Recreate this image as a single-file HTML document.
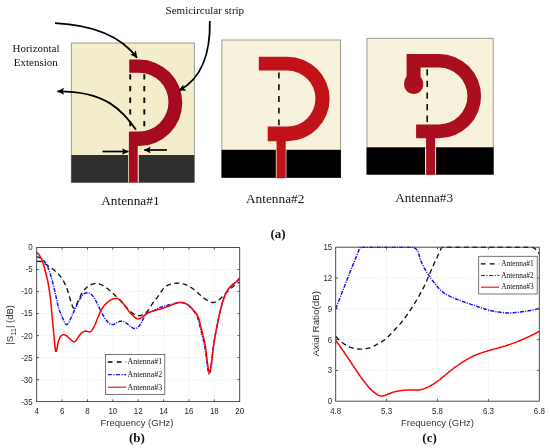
<!DOCTYPE html>
<html><head><meta charset="utf-8"><title>Figure</title>
<style>
html,body{margin:0;padding:0;background:#fff;}
svg{display:block;}
.serif{font-family:"Liberation Serif",serif;}
.sans{font-family:"Liberation Sans",sans-serif;}
</style></head><body>
<svg width="550" height="448" viewBox="0 0 550 448">
<rect width="550" height="448" fill="#fff"/>
<defs>
<marker id="ah" viewBox="0 0 10 10" refX="9.5" refY="5" markerWidth="8.5" markerHeight="7" markerUnits="userSpaceOnUse" orient="auto"><path d="M0,0 L10,5 L0,10 L2.2,5 Z" fill="#000"/></marker>
<marker id="ah2" viewBox="0 0 10 10" refX="9.5" refY="5" markerWidth="7" markerHeight="6.6" markerUnits="userSpaceOnUse" orient="auto"><path d="M0,0 L10,5 L0,10 L1.5,5 Z" fill="#000"/></marker>
</defs>

<!-- Antenna 1 -->
<g>
<rect x="71.3" y="43" width="123" height="139.5" fill="#f3edcc" stroke="#85857e" stroke-width="0.8"/>
<rect x="71.3" y="155" width="123" height="27.5" fill="#2f2f2f"/>
<rect x="128.1" y="155" width="10.7" height="27.5" fill="#efe8c9"/>
<path d="M129.2,59.6 H139.1 A43.2,43.2 0 0 1 139.1,146 H137.7 V182.6 H128.9 V131.5 H139.1 A29.4,29.4 0 0 0 139.1,72.7 H129.2 Z" fill="#a50a20"/>
<path d="M130.2,74.2 V131 M144.3,74.2 V131" stroke="#0a0a0a" stroke-width="1.9" stroke-dasharray="5.3 6.4" fill="none"/>
<path d="M55,23.1 C85,24.5 118,32 137,57.8" stroke="#000" stroke-width="1.8" fill="none" marker-end="url(#ah)"/>
<path d="M209.8,21 C210.5,50 203,78 179,90.6" stroke="#000" stroke-width="1.8" fill="none" marker-end="url(#ah)"/>
<path d="M136,129.8 C121,109.6 106,91 57.5,91.3" stroke="#000" stroke-width="1.8" fill="none" marker-end="url(#ah)"/>
<path d="M102.5,151.5 H128.4" stroke="#000" stroke-width="1.7" fill="none" marker-end="url(#ah2)"/>
<path d="M167,150 H144.3" stroke="#000" stroke-width="1.7" fill="none" marker-end="url(#ah2)"/>
</g>
<text class="serif" x="165.6" y="13.8" font-size="11" fill="#111">Semicircular strip</text>
<text class="serif" x="12.5" y="52" font-size="11" fill="#111">Horizontal</text>
<text class="serif" x="13.8" y="65.8" font-size="11" fill="#111">Extension</text>
<text class="serif" x="101.2" y="204.5" font-size="13.3" fill="#111">Antenna#1</text>

<!-- Antenna 2 -->
<g>
<rect x="221.9" y="40" width="118.6" height="137.5" fill="#f8f2dd" stroke="#85857e" stroke-width="0.8"/>
<rect x="221.5" y="149.8" width="119.4" height="28" fill="#000"/>
<rect x="275.8" y="149.8" width="10.6" height="28" fill="#f1ebd6"/>
<path d="M258.8,56.7 H287.4 A42.2,42.2 0 0 1 287.4,141.2 H285.7 V178.2 H276.6 V141.2 H267.7 V126.6 H287.4 A28,28 0 0 0 287.4,70.5 H258.8 Z" fill="#c1121a"/>
<path d="M278.9,72.6 V126" stroke="#0a0a0a" stroke-width="1.6" stroke-dasharray="5.9 5.8" fill="none"/>
</g>
<text class="serif" x="246" y="203" font-size="13.3" fill="#111">Antenna#2</text>

<!-- Antenna 3 -->
<g>
<rect x="367" y="38.3" width="126.2" height="136.2" fill="#f8f2dd" stroke="#85857e" stroke-width="0.8"/>
<rect x="366.6" y="147.3" width="127" height="27.3" fill="#000"/>
<rect x="425" y="147.3" width="11.1" height="27.3" fill="#f1ebd6"/>
<path d="M406.6,54 H439 A42.1,42.1 0 0 1 439,138.2 H435.1 V174.8 H426.1 V138.2 H416.1 V124.4 H439 A28.4,28.4 0 0 0 439,67.6 H420.6 V77 C423.5,80 423.4,84 423.2,86 A9.6,9.4 0 0 1 404.1,85 C404,81 405,78.5 406.6,76 Z" fill="#a90f1f"/>
<path d="M427.2,69.2 V128" stroke="#0a0a0a" stroke-width="1.6" stroke-dasharray="6.3 5.3" fill="none"/>
</g>
<text class="serif" x="395.2" y="201.8" font-size="13.2" fill="#111">Antenna#3</text>
<text class="serif" x="270.5" y="237.8" font-size="13" font-weight="bold" fill="#111">(a)</text>

<!-- Plot b -->
<rect x="36.7" y="247.5" width="203.0" height="154.1" fill="#fff"/>
<path d="M62.1,247.5 V401.6 M87.5,247.5 V401.6 M112.8,247.5 V401.6 M138.2,247.5 V401.6 M163.6,247.5 V401.6 M188.9,247.5 V401.6 M214.3,247.5 V401.6 M36.7,269.5 H239.7 M36.7,291.5 H239.7 M36.7,313.5 H239.7 M36.7,335.6 H239.7 M36.7,357.6 H239.7 M36.7,379.6 H239.7" stroke="#eaeaea" stroke-width="0.8" stroke-dasharray="2 1.5" fill="none"/>
<clipPath id="cb"><rect x="36.7" y="247.5" width="203.0" height="154.1"/></clipPath>
<g clip-path="url(#cb)" fill="none" stroke-linejoin="round">
<path d="M36.7,261.6 L37.4,261.4 L38.1,261.3 L38.7,261.3 L39.4,261.4 L40.1,261.5 L40.8,261.7 L41.5,261.9 L42.1,262.2 L42.8,262.5 L43.5,262.8 L44.2,263.2 L44.8,263.6 L45.5,264.1 L46.2,264.5 L46.9,265.0 L47.6,265.4 L48.2,265.9 L48.9,266.3 L49.6,266.8 L50.3,267.3 L51.0,267.8 L51.6,268.3 L52.3,268.8 L53.0,269.3 L53.7,269.8 L54.4,270.4 L55.0,270.9 L55.7,271.5 L56.4,272.1 L57.1,272.8 L57.7,273.4 L58.4,274.1 L59.1,274.9 L59.8,275.7 L60.5,276.5 L61.1,277.4 L61.8,278.4 L62.5,279.4 L63.2,280.5 L63.9,281.7 L64.5,283.1 L65.2,284.5 L65.9,286.1 L66.6,287.8 L67.3,289.7 L67.9,291.7 L68.6,293.9 L69.3,296.2 L70.0,298.5 L70.6,300.8 L71.3,303.0 L72.0,305.1 L72.7,306.8 L73.4,307.9 L74.0,308.3 L74.7,308.0 L75.4,307.0 L76.1,305.7 L76.8,304.1 L77.4,302.5 L78.1,300.9 L78.8,299.4 L79.5,297.9 L80.2,296.5 L80.8,295.1 L81.5,293.9 L82.2,292.7 L82.9,291.7 L83.5,290.7 L84.2,289.9 L84.9,289.1 L85.6,288.4 L86.3,287.8 L86.9,287.2 L87.6,286.7 L88.3,286.2 L89.0,285.8 L89.7,285.4 L90.3,285.0 L91.0,284.7 L91.7,284.4 L92.4,284.2 L93.1,284.0 L93.7,283.8 L94.4,283.7 L95.1,283.6 L95.8,283.6 L96.4,283.6 L97.1,283.6 L97.8,283.7 L98.5,283.8 L99.2,284.0 L99.8,284.2 L100.5,284.4 L101.2,284.7 L101.9,285.0 L102.6,285.3 L103.2,285.7 L103.9,286.1 L104.6,286.5 L105.3,287.0 L106.0,287.5 L106.6,288.0 L107.3,288.5 L108.0,289.0 L108.7,289.6 L109.3,290.2 L110.0,290.7 L110.7,291.3 L111.4,291.9 L112.1,292.5 L112.7,293.2 L113.4,293.8 L114.1,294.4 L114.8,295.0 L115.5,295.7 L116.1,296.4 L116.8,297.0 L117.5,297.7 L118.2,298.4 L118.9,299.1 L119.5,299.8 L120.2,300.5 L120.9,301.3 L121.6,302.0 L122.2,302.8 L122.9,303.5 L123.6,304.3 L124.3,305.1 L125.0,305.8 L125.6,306.6 L126.3,307.3 L127.0,308.0 L127.7,308.8 L128.4,309.5 L129.0,310.1 L129.7,310.8 L130.4,311.4 L131.1,312.0 L131.8,312.6 L132.4,313.1 L133.1,313.6 L133.8,314.1 L134.5,314.5 L135.1,314.8 L135.8,315.1 L136.5,315.4 L137.2,315.6 L137.9,315.7 L138.5,315.8 L139.2,315.7 L139.9,315.6 L140.6,315.5 L141.3,315.3 L141.9,315.0 L142.6,314.7 L143.3,314.3 L144.0,313.9 L144.6,313.5 L145.3,313.0 L146.0,312.5 L146.7,311.9 L147.4,311.3 L148.0,310.5 L148.7,309.7 L149.4,308.7 L150.1,307.6 L150.8,306.5 L151.4,305.3 L152.1,304.2 L152.8,303.0 L153.5,302.0 L154.2,301.0 L154.8,300.2 L155.5,299.4 L156.2,298.6 L156.9,297.9 L157.5,297.1 L158.2,296.2 L158.9,295.3 L159.6,294.3 L160.3,293.2 L160.9,292.2 L161.6,291.1 L162.3,290.1 L163.0,289.2 L163.7,288.3 L164.3,287.6 L165.0,287.0 L165.7,286.4 L166.4,285.9 L167.1,285.6 L167.7,285.2 L168.4,284.9 L169.1,284.7 L169.8,284.5 L170.4,284.3 L171.1,284.1 L171.8,284.0 L172.5,283.8 L173.2,283.7 L173.8,283.6 L174.5,283.4 L175.2,283.3 L175.9,283.3 L176.6,283.2 L177.2,283.2 L177.9,283.1 L178.6,283.1 L179.3,283.2 L180.0,283.2 L180.6,283.3 L181.3,283.4 L182.0,283.5 L182.7,283.7 L183.3,283.9 L184.0,284.1 L184.7,284.3 L185.4,284.5 L186.1,284.8 L186.7,285.1 L187.4,285.4 L188.1,285.8 L188.8,286.1 L189.5,286.5 L190.1,286.9 L190.8,287.3 L191.5,287.8 L192.2,288.2 L192.9,288.7 L193.5,289.2 L194.2,289.8 L194.9,290.3 L195.6,290.9 L196.2,291.5 L196.9,292.1 L197.6,292.7 L198.3,293.3 L199.0,293.9 L199.6,294.5 L200.3,295.1 L201.0,295.7 L201.7,296.3 L202.4,296.9 L203.0,297.4 L203.7,297.9 L204.4,298.4 L205.1,298.9 L205.8,299.3 L206.4,299.8 L207.1,300.2 L207.8,300.6 L208.5,300.9 L209.1,301.3 L209.8,301.6 L210.5,301.9 L211.2,302.2 L211.9,302.4 L212.5,302.5 L213.2,302.5 L213.9,302.5 L214.6,302.4 L215.3,302.2 L215.9,301.9 L216.6,301.5 L217.3,301.1 L218.0,300.6 L218.7,300.1 L219.3,299.5 L220.0,298.9 L220.7,298.3 L221.4,297.7 L222.0,297.0 L222.7,296.3 L223.4,295.7 L224.1,295.0 L224.8,294.3 L225.4,293.6 L226.1,292.9 L226.8,292.2 L227.5,291.5 L228.2,290.9 L228.8,290.2 L229.5,289.6 L230.2,289.0 L230.9,288.4 L231.6,287.8 L232.2,287.2 L232.9,286.7 L233.6,286.2 L234.3,285.6 L234.9,285.1 L235.6,284.6 L236.3,284.1 L237.0,283.7 L237.7,283.2 L238.3,282.7 L239.0,282.3 L239.7,281.8" stroke="#111" stroke-width="1.35" stroke-dasharray="5 3.5"/>
<path d="M36.7,257.2 L37.4,257.1 L38.1,257.1 L38.7,257.3 L39.4,257.5 L40.1,257.8 L40.8,258.2 L41.5,258.7 L42.1,259.3 L42.8,259.9 L43.5,260.5 L44.2,261.2 L44.8,262.0 L45.5,262.9 L46.2,263.9 L46.9,265.1 L47.6,266.5 L48.2,268.1 L48.9,269.9 L49.6,271.9 L50.3,274.0 L51.0,276.3 L51.6,278.6 L52.3,281.1 L53.0,283.7 L53.7,286.4 L54.4,289.2 L55.0,292.2 L55.7,295.2 L56.4,298.4 L57.1,301.5 L57.7,304.5 L58.4,307.0 L59.1,309.3 L59.8,311.3 L60.5,313.1 L61.1,314.7 L61.8,316.3 L62.5,317.8 L63.2,319.3 L63.9,320.9 L64.5,322.3 L65.2,323.5 L65.9,324.3 L66.6,324.6 L67.3,324.4 L67.9,323.8 L68.6,322.8 L69.3,321.6 L70.0,320.2 L70.6,318.7 L71.3,317.2 L72.0,315.6 L72.7,314.1 L73.4,312.6 L74.0,311.1 L74.7,309.6 L75.4,308.1 L76.1,306.6 L76.8,305.1 L77.4,303.7 L78.1,302.3 L78.8,300.9 L79.5,299.6 L80.2,298.4 L80.8,297.3 L81.5,296.3 L82.2,295.4 L82.9,294.7 L83.5,294.1 L84.2,293.6 L84.9,293.3 L85.6,293.0 L86.3,292.9 L86.9,292.8 L87.6,292.9 L88.3,293.0 L89.0,293.1 L89.7,293.4 L90.3,293.8 L91.0,294.2 L91.7,294.8 L92.4,295.5 L93.1,296.2 L93.7,297.2 L94.4,298.2 L95.1,299.4 L95.8,300.6 L96.4,301.9 L97.1,303.3 L97.8,304.7 L98.5,306.1 L99.2,307.6 L99.8,309.0 L100.5,310.3 L101.2,311.7 L101.9,313.0 L102.6,314.3 L103.2,315.5 L103.9,316.7 L104.6,317.9 L105.3,318.9 L106.0,319.9 L106.6,320.8 L107.3,321.6 L108.0,322.4 L108.7,323.0 L109.3,323.6 L110.0,324.0 L110.7,324.3 L111.4,324.5 L112.1,324.6 L112.7,324.5 L113.4,324.4 L114.1,324.2 L114.8,323.9 L115.5,323.5 L116.1,323.2 L116.8,322.8 L117.5,322.4 L118.2,322.1 L118.9,321.7 L119.5,321.5 L120.2,321.3 L120.9,321.2 L121.6,321.2 L122.2,321.2 L122.9,321.4 L123.6,321.6 L124.3,321.9 L125.0,322.3 L125.6,322.7 L126.3,323.2 L127.0,323.7 L127.7,324.2 L128.4,324.8 L129.0,325.4 L129.7,325.9 L130.4,326.5 L131.1,327.0 L131.8,327.4 L132.4,327.8 L133.1,328.1 L133.8,328.4 L134.5,328.5 L135.1,328.5 L135.8,328.4 L136.5,328.2 L137.2,327.8 L137.9,327.3 L138.5,326.7 L139.2,325.9 L139.9,325.0 L140.6,323.9 L141.3,322.7 L141.9,321.5 L142.6,320.1 L143.3,318.8 L144.0,317.5 L144.6,316.2 L145.3,315.2 L146.0,314.3 L146.7,313.6 L147.4,313.1 L148.0,312.7 L148.7,312.4 L149.4,312.2 L150.1,312.0 L150.8,311.8 L151.4,311.6 L152.1,311.3 L152.8,311.1 L153.5,310.8 L154.2,310.4 L154.8,310.1 L155.5,309.7 L156.2,309.4 L156.9,309.1 L157.5,308.7 L158.2,308.4 L158.9,308.1 L159.6,307.8 L160.3,307.5 L160.9,307.2 L161.6,307.0 L162.3,306.8 L163.0,306.5 L163.7,306.3 L164.3,306.1 L165.0,305.9 L165.7,305.7 L166.4,305.5 L167.1,305.4 L167.7,305.2 L168.4,305.0 L169.1,304.8 L169.8,304.7 L170.4,304.5 L171.1,304.3 L171.8,304.1 L172.5,303.9 L173.2,303.8 L173.8,303.6 L174.5,303.4 L175.2,303.2 L175.9,303.1 L176.6,302.9 L177.2,302.8 L177.9,302.7 L178.6,302.6 L179.3,302.5 L180.0,302.5 L180.6,302.5 L181.3,302.5 L182.0,302.6 L182.7,302.7 L183.3,302.8 L184.0,303.0 L184.7,303.2 L185.4,303.4 L186.1,303.8 L186.7,304.1 L187.4,304.6 L188.1,305.0 L188.8,305.6 L189.5,306.2 L190.1,306.9 L190.8,307.6 L191.5,308.3 L192.2,309.1 L192.9,309.9 L193.5,310.8 L194.2,311.6 L194.9,312.5 L195.6,313.5 L196.2,314.6 L196.9,315.9 L197.6,317.5 L198.3,319.5 L199.0,322.0 L199.6,324.8 L200.3,327.8 L201.0,330.7 L201.7,333.4 L202.4,336.0 L203.0,338.7 L203.7,341.6 L204.4,345.0 L205.1,349.0 L205.8,353.6 L206.4,358.9 L207.1,364.2 L207.8,368.8 L208.5,372.3 L209.1,373.9 L209.8,373.2 L210.5,370.2 L211.2,365.5 L211.9,359.8 L212.5,353.8 L213.2,348.2 L213.9,343.3 L214.6,339.0 L215.3,335.2 L215.9,331.6 L216.6,328.1 L217.3,324.6 L218.0,321.2 L218.7,318.0 L219.3,314.9 L220.0,311.9 L220.7,309.1 L221.4,306.5 L222.0,304.0 L222.7,301.7 L223.4,299.5 L224.1,297.6 L224.8,295.9 L225.4,294.3 L226.1,292.8 L226.8,291.6 L227.5,290.4 L228.2,289.4 L228.8,288.5 L229.5,287.6 L230.2,286.9 L230.9,286.2 L231.6,285.6 L232.2,285.0 L232.9,284.4 L233.6,283.9 L234.3,283.4 L234.9,282.9 L235.6,282.3 L236.3,281.7 L237.0,281.1 L237.7,280.4 L238.3,279.6 L239.0,278.8 L239.7,277.9" stroke="#1414ee" stroke-width="1.5" stroke-dasharray="4 1.2 1.1 1.2"/>
<path d="M36.7,252.6 L37.4,253.0 L38.1,253.6 L38.7,254.4 L39.4,255.3 L40.1,256.4 L40.8,257.7 L41.5,259.2 L42.1,260.8 L42.8,262.6 L43.5,264.6 L44.2,266.8 L44.8,269.2 L45.5,271.8 L46.2,274.5 L46.9,277.4 L47.6,280.4 L48.2,283.7 L48.9,287.4 L49.6,291.9 L50.3,297.4 L51.0,303.7 L51.6,310.7 L52.3,318.1 L53.0,325.9 L53.7,333.5 L54.4,340.8 L55.0,347.2 L55.7,351.3 L56.4,351.3 L57.1,348.3 L57.7,344.4 L58.4,341.3 L59.1,339.2 L59.8,337.7 L60.5,336.7 L61.1,335.9 L61.8,335.3 L62.5,334.9 L63.2,334.7 L63.9,334.7 L64.5,334.8 L65.2,335.1 L65.9,335.4 L66.6,335.9 L67.3,336.4 L67.9,337.0 L68.6,337.6 L69.3,338.3 L70.0,338.9 L70.6,339.5 L71.3,340.1 L72.0,340.7 L72.7,341.2 L73.4,341.6 L74.0,341.8 L74.7,341.7 L75.4,341.3 L76.1,340.5 L76.8,339.5 L77.4,338.4 L78.1,337.3 L78.8,336.3 L79.5,335.3 L80.2,334.5 L80.8,333.8 L81.5,333.1 L82.2,332.5 L82.9,332.0 L83.5,331.7 L84.2,331.4 L84.9,331.2 L85.6,331.1 L86.3,331.2 L86.9,331.3 L87.6,331.5 L88.3,331.7 L89.0,331.8 L89.7,331.8 L90.3,331.6 L91.0,331.2 L91.7,330.5 L92.4,329.6 L93.1,328.6 L93.7,327.4 L94.4,326.0 L95.1,324.5 L95.8,322.9 L96.4,321.2 L97.1,319.5 L97.8,317.8 L98.5,316.1 L99.2,314.4 L99.8,312.9 L100.5,311.4 L101.2,310.1 L101.9,308.9 L102.6,307.8 L103.2,306.8 L103.9,305.9 L104.6,305.1 L105.3,304.4 L106.0,303.7 L106.6,303.1 L107.3,302.5 L108.0,301.9 L108.7,301.4 L109.3,300.9 L110.0,300.4 L110.7,300.0 L111.4,299.6 L112.1,299.3 L112.7,299.0 L113.4,298.8 L114.1,298.6 L114.8,298.4 L115.5,298.4 L116.1,298.4 L116.8,298.5 L117.5,298.6 L118.2,298.9 L118.9,299.2 L119.5,299.6 L120.2,300.1 L120.9,300.7 L121.6,301.4 L122.2,302.2 L122.9,303.0 L123.6,303.9 L124.3,304.8 L125.0,305.8 L125.6,306.7 L126.3,307.7 L127.0,308.6 L127.7,309.6 L128.4,310.5 L129.0,311.4 L129.7,312.2 L130.4,313.0 L131.1,313.8 L131.8,314.6 L132.4,315.3 L133.1,315.9 L133.8,316.5 L134.5,317.1 L135.1,317.7 L135.8,318.1 L136.5,318.5 L137.2,318.7 L137.9,318.9 L138.5,318.8 L139.2,318.7 L139.9,318.5 L140.6,318.1 L141.3,317.7 L141.9,317.3 L142.6,316.7 L143.3,316.2 L144.0,315.7 L144.6,315.1 L145.3,314.6 L146.0,314.1 L146.7,313.7 L147.4,313.2 L148.0,312.9 L148.7,312.5 L149.4,312.2 L150.1,311.9 L150.8,311.7 L151.4,311.4 L152.1,311.2 L152.8,311.0 L153.5,310.8 L154.2,310.6 L154.8,310.5 L155.5,310.3 L156.2,310.1 L156.9,310.0 L157.5,309.8 L158.2,309.6 L158.9,309.5 L159.6,309.3 L160.3,309.1 L160.9,308.9 L161.6,308.7 L162.3,308.5 L163.0,308.2 L163.7,308.0 L164.3,307.8 L165.0,307.5 L165.7,307.3 L166.4,307.1 L167.1,306.8 L167.7,306.5 L168.4,306.3 L169.1,306.0 L169.8,305.7 L170.4,305.5 L171.1,305.2 L171.8,304.9 L172.5,304.7 L173.2,304.4 L173.8,304.1 L174.5,303.9 L175.2,303.6 L175.9,303.4 L176.6,303.2 L177.2,303.0 L177.9,302.8 L178.6,302.7 L179.3,302.6 L180.0,302.5 L180.6,302.5 L181.3,302.5 L182.0,302.6 L182.7,302.7 L183.3,302.8 L184.0,303.0 L184.7,303.2 L185.4,303.5 L186.1,303.8 L186.7,304.2 L187.4,304.6 L188.1,305.0 L188.8,305.5 L189.5,306.1 L190.1,306.7 L190.8,307.3 L191.5,308.0 L192.2,308.7 L192.9,309.4 L193.5,310.2 L194.2,310.9 L194.9,311.7 L195.6,312.6 L196.2,313.4 L196.9,314.5 L197.6,315.7 L198.3,317.3 L199.0,319.3 L199.6,321.7 L200.3,324.5 L201.0,327.4 L201.7,330.2 L202.4,332.8 L203.0,335.4 L203.7,338.1 L204.4,341.1 L205.1,344.7 L205.8,349.1 L206.4,354.4 L207.1,360.1 L207.8,365.5 L208.5,369.9 L209.1,372.3 L209.8,372.1 L210.5,369.5 L211.2,365.1 L211.9,359.6 L212.5,353.7 L213.2,348.2 L213.9,343.4 L214.6,339.1 L215.3,335.2 L215.9,331.6 L216.6,328.0 L217.3,324.6 L218.0,321.2 L218.7,318.0 L219.3,314.9 L220.0,311.9 L220.7,309.1 L221.4,306.5 L222.0,304.0 L222.7,301.7 L223.4,299.5 L224.1,297.6 L224.8,295.9 L225.4,294.3 L226.1,292.8 L226.8,291.6 L227.5,290.4 L228.2,289.4 L228.8,288.4 L229.5,287.6 L230.2,286.9 L230.9,286.2 L231.6,285.6 L232.2,285.0 L232.9,284.4 L233.6,283.9 L234.3,283.4 L234.9,282.9 L235.6,282.3 L236.3,281.7 L237.0,281.1 L237.7,280.4 L238.3,279.7 L239.0,278.8 L239.7,277.9" stroke="#f00" stroke-width="1.5"/>
</g>
<path d="M62.1,401.6 v-2.2 M62.1,247.5 v2.2 M87.5,401.6 v-2.2 M87.5,247.5 v2.2 M112.8,401.6 v-2.2 M112.8,247.5 v2.2 M138.2,401.6 v-2.2 M138.2,247.5 v2.2 M163.6,401.6 v-2.2 M163.6,247.5 v2.2 M188.9,401.6 v-2.2 M188.9,247.5 v2.2 M214.3,401.6 v-2.2 M214.3,247.5 v2.2 M36.7,269.5 h2.2 M239.7,269.5 h-2.2 M36.7,291.5 h2.2 M239.7,291.5 h-2.2 M36.7,313.5 h2.2 M239.7,313.5 h-2.2 M36.7,335.6 h2.2 M239.7,335.6 h-2.2 M36.7,357.6 h2.2 M239.7,357.6 h-2.2 M36.7,379.6 h2.2 M239.7,379.6 h-2.2" stroke="#333" stroke-width="0.8" fill="none"/>
<rect x="36.7" y="247.5" width="203.0" height="154.1" fill="none" stroke="#3a3a3a" stroke-width="0.9"/>
<text class="sans" transform="translate(36.7,414) scale(0.86,1)" font-size="9.2" text-anchor="middle" fill="#262626">4</text>
<text class="sans" transform="translate(62.1,414) scale(0.86,1)" font-size="9.2" text-anchor="middle" fill="#262626">6</text>
<text class="sans" transform="translate(87.5,414) scale(0.86,1)" font-size="9.2" text-anchor="middle" fill="#262626">8</text>
<text class="sans" transform="translate(112.8,414) scale(0.86,1)" font-size="9.2" text-anchor="middle" fill="#262626">10</text>
<text class="sans" transform="translate(138.2,414) scale(0.86,1)" font-size="9.2" text-anchor="middle" fill="#262626">12</text>
<text class="sans" transform="translate(163.6,414) scale(0.86,1)" font-size="9.2" text-anchor="middle" fill="#262626">14</text>
<text class="sans" transform="translate(188.9,414) scale(0.86,1)" font-size="9.2" text-anchor="middle" fill="#262626">16</text>
<text class="sans" transform="translate(214.3,414) scale(0.86,1)" font-size="9.2" text-anchor="middle" fill="#262626">18</text>
<text class="sans" transform="translate(239.7,414) scale(0.86,1)" font-size="9.2" text-anchor="middle" fill="#262626">20</text>
<text class="sans" transform="translate(32.6,250.4) scale(0.86,1)" font-size="9.2" text-anchor="end" fill="#262626">0</text>
<text class="sans" transform="translate(32.6,272.4) scale(0.86,1)" font-size="9.2" text-anchor="end" fill="#262626">-5</text>
<text class="sans" transform="translate(32.6,294.4) scale(0.86,1)" font-size="9.2" text-anchor="end" fill="#262626">-10</text>
<text class="sans" transform="translate(32.6,316.4) scale(0.86,1)" font-size="9.2" text-anchor="end" fill="#262626">-15</text>
<text class="sans" transform="translate(32.6,338.5) scale(0.86,1)" font-size="9.2" text-anchor="end" fill="#262626">-20</text>
<text class="sans" transform="translate(32.6,360.5) scale(0.86,1)" font-size="9.2" text-anchor="end" fill="#262626">-25</text>
<text class="sans" transform="translate(32.6,382.5) scale(0.86,1)" font-size="9.2" text-anchor="end" fill="#262626">-30</text>
<text class="sans" transform="translate(32.6,404.5) scale(0.86,1)" font-size="9.2" text-anchor="end" fill="#262626">-35</text>
<text class="sans" x="137" y="426.2" font-size="9.5" text-anchor="middle" fill="#333">Frequency (GHz)</text>
<text class="sans" transform="translate(12.8,324.8) rotate(-90)" font-size="9.5" text-anchor="middle" fill="#333">|S<tspan font-size="7.5" dy="3">11</tspan><tspan dy="-3">| (dB)</tspan></text>
<rect x="105.5" y="354.5" width="59.3" height="40" fill="#fff" stroke="#555" stroke-width="0.8"/>
<path d="M107.8,362 H126.2" stroke="#000" stroke-width="1.3" stroke-dasharray="4.7 4.3" fill="none"/>
<path d="M107.8,374.6 H126.2" stroke="#1414ee" stroke-width="1.1" stroke-dasharray="4 1.5 1.2 1.5" fill="none"/>
<path d="M107.8,387.2 H126.2" stroke="#f00" stroke-width="1.1" fill="none"/>
<text class="serif" x="127.5" y="364.4" font-size="7.9" fill="#111">Antenna#1</text>
<text class="serif" x="127.5" y="377.0" font-size="7.9" fill="#111">Antenna#2</text>
<text class="serif" x="127.5" y="389.7" font-size="7.9" fill="#111">Antenna#3</text>
<text class="serif" x="129" y="441.7" font-size="13" font-weight="bold" fill="#111">(b)</text>
<!-- Plot c -->
<rect x="335.7" y="247.2" width="203.6" height="154.0" fill="#fff"/>
<path d="M386.6,247.2 V401.2 M437.5,247.2 V401.2 M488.4,247.2 V401.2 M335.7,278.0 H539.3 M335.7,308.8 H539.3 M335.7,339.6 H539.3 M335.7,370.4 H539.3" stroke="#eaeaea" stroke-width="0.8" stroke-dasharray="2 1.5" fill="none"/>
<clipPath id="cc"><rect x="335.7" y="246.2" width="203.6" height="155.0"/></clipPath>
<g clip-path="url(#cc)" fill="none" stroke-linejoin="round">
<path d="M335.7,336.3 L336.4,337.1 L337.1,337.8 L337.7,338.5 L338.4,339.2 L339.1,339.9 L339.8,340.5 L340.5,341.1 L341.1,341.7 L341.8,342.3 L342.5,342.8 L343.2,343.3 L343.9,343.8 L344.6,344.2 L345.2,344.7 L345.9,345.1 L346.6,345.5 L347.3,345.9 L348.0,346.2 L348.6,346.6 L349.3,346.9 L350.0,347.2 L350.7,347.4 L351.4,347.6 L352.0,347.8 L352.7,348.0 L353.4,348.1 L354.1,348.3 L354.8,348.4 L355.4,348.5 L356.1,348.7 L356.8,348.8 L357.5,348.9 L358.2,349.0 L358.9,349.0 L359.5,349.1 L360.2,349.1 L360.9,349.1 L361.6,349.1 L362.3,349.1 L362.9,349.1 L363.6,349.0 L364.3,348.9 L365.0,348.8 L365.7,348.7 L366.3,348.6 L367.0,348.4 L367.7,348.3 L368.4,348.1 L369.1,348.0 L369.7,347.8 L370.4,347.6 L371.1,347.4 L371.8,347.2 L372.5,346.9 L373.2,346.5 L373.8,346.2 L374.5,345.8 L375.2,345.4 L375.9,345.0 L376.6,344.6 L377.2,344.2 L377.9,343.8 L378.6,343.4 L379.3,343.0 L380.0,342.7 L380.6,342.3 L381.3,341.9 L382.0,341.5 L382.7,341.1 L383.4,340.7 L384.0,340.2 L384.7,339.7 L385.4,339.2 L386.1,338.7 L386.8,338.1 L387.5,337.4 L388.1,336.8 L388.8,336.1 L389.5,335.3 L390.2,334.6 L390.9,333.9 L391.5,333.1 L392.2,332.4 L392.9,331.6 L393.6,330.9 L394.3,330.2 L394.9,329.5 L395.6,328.8 L396.3,328.1 L397.0,327.4 L397.7,326.6 L398.3,325.9 L399.0,325.1 L399.7,324.4 L400.4,323.6 L401.1,322.8 L401.8,322.0 L402.4,321.1 L403.1,320.3 L403.8,319.4 L404.5,318.5 L405.2,317.5 L405.8,316.6 L406.5,315.6 L407.2,314.6 L407.9,313.6 L408.6,312.6 L409.2,311.6 L409.9,310.6 L410.6,309.6 L411.3,308.5 L412.0,307.5 L412.6,306.4 L413.3,305.4 L414.0,304.3 L414.7,303.2 L415.4,302.1 L416.1,301.0 L416.7,299.8 L417.4,298.7 L418.1,297.5 L418.8,296.3 L419.5,295.1 L420.1,293.9 L420.8,292.7 L421.5,291.5 L422.2,290.2 L422.9,288.9 L423.5,287.6 L424.2,286.2 L424.9,284.8 L425.6,283.4 L426.3,281.8 L426.9,280.2 L427.6,278.6 L428.3,277.0 L429.0,275.4 L429.7,273.8 L430.4,272.2 L431.0,270.6 L431.7,269.0 L432.4,267.5 L433.1,265.9 L433.8,264.4 L434.4,262.9 L435.1,261.4 L435.8,259.9 L436.5,258.5 L437.2,257.0 L437.8,255.6 L438.5,254.3 L439.2,252.9 L439.9,251.2 L440.6,249.6 L441.2,248.3 L441.9,247.4 L442.6,247.2 L443.3,247.2 L444.0,247.2 L444.6,247.2 L445.3,247.2 L446.0,247.2 L446.7,247.2 L447.4,247.2 L448.1,247.2 L448.7,247.2 L449.4,247.2 L450.1,247.2 L450.8,247.2 L451.5,247.2 L452.1,247.2 L452.8,247.2 L453.5,247.2 L454.2,247.2 L454.9,247.2 L455.5,247.2 L456.2,247.2 L456.9,247.2 L457.6,247.2 L458.3,247.2 L458.9,247.2 L459.6,247.2 L460.3,247.2 L461.0,247.2 L461.7,247.2 L462.4,247.2 L463.0,247.2 L463.7,247.2 L464.4,247.2 L465.1,247.2 L465.8,247.2 L466.4,247.2 L467.1,247.2 L467.8,247.2 L468.5,247.2 L469.2,247.2 L469.8,247.2 L470.5,247.2 L471.2,247.2 L471.9,247.2 L472.6,247.2 L473.2,247.2 L473.9,247.2 L474.6,247.2 L475.3,247.2 L476.0,247.2 L476.7,247.2 L477.3,247.2 L478.0,247.2 L478.7,247.2 L479.4,247.2 L480.1,247.2 L480.7,247.2 L481.4,247.2 L482.1,247.2 L482.8,247.2 L483.5,247.2 L484.1,247.2 L484.8,247.2 L485.5,247.2 L486.2,247.2 L486.9,247.2 L487.5,247.2 L488.2,247.2 L488.9,247.2 L489.6,247.2 L490.3,247.2 L491.0,247.2 L491.6,247.2 L492.3,247.2 L493.0,247.2 L493.7,247.2 L494.4,247.2 L495.0,247.2 L495.7,247.2 L496.4,247.2 L497.1,247.2 L497.8,247.2 L498.4,247.2 L499.1,247.2 L499.8,247.2 L500.5,247.2 L501.2,247.2 L501.8,247.2 L502.5,247.2 L503.2,247.2 L503.9,247.2 L504.6,247.2 L505.3,247.2 L505.9,247.2 L506.6,247.2 L507.3,247.2 L508.0,247.2 L508.7,247.2 L509.3,247.2 L510.0,247.2 L510.7,247.2 L511.4,247.2 L512.1,247.2 L512.7,247.2 L513.4,247.2 L514.1,247.2 L514.8,247.2 L515.5,247.2 L516.1,247.2 L516.8,247.2 L517.5,247.2 L518.2,247.2 L518.9,247.2 L519.6,247.2 L520.2,247.2 L520.9,247.2 L521.6,247.2 L522.3,247.2 L523.0,247.2 L523.6,247.2 L524.3,247.2 L525.0,247.2 L525.7,247.2 L526.4,247.2 L527.0,247.2 L527.7,247.2 L528.4,247.2 L529.1,247.2 L529.8,247.2 L530.4,247.2 L531.1,247.2 L531.8,247.2 L532.5,247.4 L533.2,247.6 L533.9,248.0 L534.5,248.4 L535.2,248.9 L535.9,249.5 L536.6,250.2 L537.3,251.0 L537.9,251.9 L538.6,252.8 L539.3,253.9" stroke="#111" stroke-width="1.35" stroke-dasharray="5 3.5"/>
<path d="M335.7,308.6 L336.4,306.9 L337.1,305.2 L337.7,303.5 L338.4,301.8 L339.1,300.0 L339.8,298.3 L340.5,296.6 L341.1,294.9 L341.8,293.1 L342.5,291.4 L343.2,289.6 L343.9,287.9 L344.6,286.1 L345.2,284.4 L345.9,282.6 L346.6,280.9 L347.3,279.1 L348.0,277.4 L348.6,275.7 L349.3,274.0 L350.0,272.2 L350.7,270.5 L351.4,268.8 L352.0,267.1 L352.7,265.4 L353.4,263.8 L354.1,262.1 L354.8,260.5 L355.4,258.8 L356.1,257.2 L356.8,255.6 L357.5,253.9 L358.2,251.9 L358.9,250.0 L359.5,248.4 L360.2,247.4 L360.9,247.2 L361.6,247.2 L362.3,247.2 L362.9,247.2 L363.6,247.2 L364.3,247.2 L365.0,247.2 L365.7,247.2 L366.3,247.2 L367.0,247.2 L367.7,247.2 L368.4,247.2 L369.1,247.2 L369.7,247.2 L370.4,247.2 L371.1,247.2 L371.8,247.2 L372.5,247.2 L373.2,247.2 L373.8,247.2 L374.5,247.2 L375.2,247.2 L375.9,247.2 L376.6,247.2 L377.2,247.2 L377.9,247.2 L378.6,247.2 L379.3,247.2 L380.0,247.2 L380.6,247.2 L381.3,247.2 L382.0,247.2 L382.7,247.2 L383.4,247.2 L384.0,247.2 L384.7,247.2 L385.4,247.2 L386.1,247.2 L386.8,247.2 L387.5,247.2 L388.1,247.2 L388.8,247.2 L389.5,247.2 L390.2,247.2 L390.9,247.2 L391.5,247.2 L392.2,247.2 L392.9,247.2 L393.6,247.2 L394.3,247.2 L394.9,247.2 L395.6,247.2 L396.3,247.2 L397.0,247.2 L397.7,247.2 L398.3,247.2 L399.0,247.2 L399.7,247.2 L400.4,247.2 L401.1,247.2 L401.8,247.2 L402.4,247.2 L403.1,247.2 L403.8,247.2 L404.5,247.2 L405.2,247.2 L405.8,247.2 L406.5,247.2 L407.2,247.2 L407.9,247.2 L408.6,247.2 L409.2,247.2 L409.9,247.2 L410.6,247.2 L411.3,247.2 L412.0,247.2 L412.6,247.2 L413.3,247.4 L414.0,247.7 L414.7,248.0 L415.4,248.5 L416.1,249.0 L416.7,249.6 L417.4,250.4 L418.1,252.0 L418.8,254.0 L419.5,256.4 L420.1,258.7 L420.8,260.8 L421.5,262.4 L422.2,263.9 L422.9,265.2 L423.5,266.5 L424.2,267.8 L424.9,269.0 L425.6,270.2 L426.3,271.3 L426.9,272.4 L427.6,273.5 L428.3,274.6 L429.0,275.6 L429.7,276.6 L430.4,277.7 L431.0,278.6 L431.7,279.6 L432.4,280.5 L433.1,281.4 L433.8,282.3 L434.4,283.1 L435.1,284.0 L435.8,284.8 L436.5,285.7 L437.2,286.5 L437.8,287.3 L438.5,288.0 L439.2,288.7 L439.9,289.4 L440.6,290.1 L441.2,290.7 L441.9,291.2 L442.6,291.8 L443.3,292.3 L444.0,292.8 L444.6,293.3 L445.3,293.7 L446.0,294.2 L446.7,294.6 L447.4,295.0 L448.1,295.4 L448.7,295.7 L449.4,296.1 L450.1,296.4 L450.8,296.8 L451.5,297.1 L452.1,297.4 L452.8,297.7 L453.5,297.9 L454.2,298.2 L454.9,298.5 L455.5,298.8 L456.2,299.0 L456.9,299.3 L457.6,299.6 L458.3,299.8 L458.9,300.1 L459.6,300.4 L460.3,300.6 L461.0,300.9 L461.7,301.1 L462.4,301.4 L463.0,301.6 L463.7,301.8 L464.4,302.1 L465.1,302.3 L465.8,302.5 L466.4,302.8 L467.1,303.0 L467.8,303.2 L468.5,303.5 L469.2,303.7 L469.8,303.9 L470.5,304.1 L471.2,304.4 L471.9,304.6 L472.6,304.8 L473.2,305.0 L473.9,305.3 L474.6,305.5 L475.3,305.8 L476.0,306.0 L476.7,306.2 L477.3,306.5 L478.0,306.7 L478.7,307.0 L479.4,307.2 L480.1,307.4 L480.7,307.7 L481.4,307.9 L482.1,308.1 L482.8,308.4 L483.5,308.6 L484.1,308.8 L484.8,309.0 L485.5,309.2 L486.2,309.4 L486.9,309.6 L487.5,309.8 L488.2,310.0 L488.9,310.2 L489.6,310.4 L490.3,310.5 L491.0,310.7 L491.6,310.8 L492.3,311.0 L493.0,311.1 L493.7,311.2 L494.4,311.3 L495.0,311.4 L495.7,311.6 L496.4,311.7 L497.1,311.8 L497.8,311.9 L498.4,312.0 L499.1,312.1 L499.8,312.2 L500.5,312.3 L501.2,312.4 L501.8,312.4 L502.5,312.5 L503.2,312.6 L503.9,312.7 L504.6,312.7 L505.3,312.8 L505.9,312.8 L506.6,312.9 L507.3,312.9 L508.0,312.9 L508.7,312.9 L509.3,312.9 L510.0,312.9 L510.7,312.9 L511.4,312.8 L512.1,312.8 L512.7,312.8 L513.4,312.7 L514.1,312.7 L514.8,312.6 L515.5,312.6 L516.1,312.5 L516.8,312.4 L517.5,312.3 L518.2,312.3 L518.9,312.2 L519.6,312.1 L520.2,312.0 L520.9,311.9 L521.6,311.8 L522.3,311.7 L523.0,311.6 L523.6,311.6 L524.3,311.5 L525.0,311.4 L525.7,311.3 L526.4,311.2 L527.0,311.1 L527.7,311.0 L528.4,310.8 L529.1,310.7 L529.8,310.6 L530.4,310.5 L531.1,310.3 L531.8,310.2 L532.5,310.0 L533.2,309.9 L533.9,309.7 L534.5,309.6 L535.2,309.4 L535.9,309.3 L536.6,309.1 L537.3,308.9 L537.9,308.7 L538.6,308.6 L539.3,308.4" stroke="#1414ee" stroke-width="1.5" stroke-dasharray="4 1.2 1.1 1.2"/>
<path d="M335.7,340.6 L336.4,341.5 L337.1,342.4 L337.7,343.3 L338.4,344.2 L339.1,345.1 L339.8,346.1 L340.5,347.0 L341.1,348.0 L341.8,348.9 L342.5,349.9 L343.2,350.9 L343.9,351.9 L344.6,352.9 L345.2,353.9 L345.9,354.9 L346.6,355.9 L347.3,356.9 L348.0,357.9 L348.6,358.9 L349.3,359.9 L350.0,361.0 L350.7,362.0 L351.4,363.0 L352.0,364.0 L352.7,365.1 L353.4,366.1 L354.1,367.1 L354.8,368.1 L355.4,369.1 L356.1,370.2 L356.8,371.2 L357.5,372.2 L358.2,373.2 L358.9,374.2 L359.5,375.2 L360.2,376.1 L360.9,377.1 L361.6,378.1 L362.3,379.0 L362.9,379.9 L363.6,380.8 L364.3,381.7 L365.0,382.6 L365.7,383.5 L366.3,384.3 L367.0,385.1 L367.7,385.9 L368.4,386.7 L369.1,387.5 L369.7,388.2 L370.4,388.9 L371.1,389.6 L371.8,390.3 L372.5,390.9 L373.2,391.5 L373.8,392.1 L374.5,392.7 L375.2,393.2 L375.9,393.7 L376.6,394.2 L377.2,394.6 L377.9,395.0 L378.6,395.4 L379.3,395.6 L380.0,395.9 L380.6,396.0 L381.3,396.1 L382.0,396.1 L382.7,396.0 L383.4,395.8 L384.0,395.7 L384.7,395.4 L385.4,395.2 L386.1,394.9 L386.8,394.6 L387.5,394.3 L388.1,394.0 L388.8,393.7 L389.5,393.5 L390.2,393.2 L390.9,393.0 L391.5,392.7 L392.2,392.5 L392.9,392.3 L393.6,392.1 L394.3,391.9 L394.9,391.7 L395.6,391.6 L396.3,391.4 L397.0,391.3 L397.7,391.1 L398.3,391.0 L399.0,390.9 L399.7,390.8 L400.4,390.7 L401.1,390.6 L401.8,390.6 L402.4,390.5 L403.1,390.4 L403.8,390.3 L404.5,390.3 L405.2,390.2 L405.8,390.2 L406.5,390.1 L407.2,390.1 L407.9,390.0 L408.6,390.0 L409.2,390.0 L409.9,389.9 L410.6,389.9 L411.3,389.9 L412.0,389.9 L412.6,389.9 L413.3,389.9 L414.0,389.9 L414.7,390.0 L415.4,390.0 L416.1,390.0 L416.7,390.0 L417.4,390.0 L418.1,389.9 L418.8,389.9 L419.5,389.8 L420.1,389.7 L420.8,389.6 L421.5,389.4 L422.2,389.3 L422.9,389.1 L423.5,388.9 L424.2,388.6 L424.9,388.4 L425.6,388.1 L426.3,387.8 L426.9,387.5 L427.6,387.2 L428.3,386.9 L429.0,386.6 L429.7,386.2 L430.4,385.9 L431.0,385.5 L431.7,385.1 L432.4,384.7 L433.1,384.3 L433.8,383.9 L434.4,383.4 L435.1,383.0 L435.8,382.5 L436.5,382.0 L437.2,381.6 L437.8,381.0 L438.5,380.5 L439.2,380.0 L439.9,379.5 L440.6,378.9 L441.2,378.4 L441.9,377.8 L442.6,377.2 L443.3,376.7 L444.0,376.1 L444.6,375.5 L445.3,375.0 L446.0,374.4 L446.7,373.8 L447.4,373.3 L448.1,372.7 L448.7,372.2 L449.4,371.6 L450.1,371.1 L450.8,370.5 L451.5,370.0 L452.1,369.5 L452.8,369.0 L453.5,368.4 L454.2,367.9 L454.9,367.4 L455.5,366.9 L456.2,366.5 L456.9,366.0 L457.6,365.5 L458.3,365.0 L458.9,364.6 L459.6,364.1 L460.3,363.6 L461.0,363.2 L461.7,362.7 L462.4,362.3 L463.0,361.9 L463.7,361.4 L464.4,361.0 L465.1,360.6 L465.8,360.2 L466.4,359.8 L467.1,359.4 L467.8,359.0 L468.5,358.6 L469.2,358.2 L469.8,357.9 L470.5,357.5 L471.2,357.1 L471.9,356.8 L472.6,356.5 L473.2,356.1 L473.9,355.8 L474.6,355.5 L475.3,355.2 L476.0,354.9 L476.7,354.6 L477.3,354.4 L478.0,354.1 L478.7,353.8 L479.4,353.6 L480.1,353.3 L480.7,353.1 L481.4,352.9 L482.1,352.6 L482.8,352.4 L483.5,352.2 L484.1,352.0 L484.8,351.8 L485.5,351.6 L486.2,351.4 L486.9,351.2 L487.5,351.0 L488.2,350.8 L488.9,350.6 L489.6,350.4 L490.3,350.2 L491.0,350.0 L491.6,349.8 L492.3,349.6 L493.0,349.4 L493.7,349.2 L494.4,349.1 L495.0,348.9 L495.7,348.7 L496.4,348.5 L497.1,348.3 L497.8,348.1 L498.4,347.9 L499.1,347.7 L499.8,347.5 L500.5,347.3 L501.2,347.1 L501.8,346.9 L502.5,346.7 L503.2,346.5 L503.9,346.3 L504.6,346.1 L505.3,345.9 L505.9,345.7 L506.6,345.5 L507.3,345.3 L508.0,345.0 L508.7,344.8 L509.3,344.6 L510.0,344.4 L510.7,344.1 L511.4,343.9 L512.1,343.6 L512.7,343.4 L513.4,343.1 L514.1,342.9 L514.8,342.6 L515.5,342.4 L516.1,342.1 L516.8,341.9 L517.5,341.6 L518.2,341.3 L518.9,341.0 L519.6,340.8 L520.2,340.5 L520.9,340.2 L521.6,339.9 L522.3,339.6 L523.0,339.3 L523.6,339.0 L524.3,338.7 L525.0,338.4 L525.7,338.1 L526.4,337.8 L527.0,337.5 L527.7,337.2 L528.4,336.8 L529.1,336.5 L529.8,336.2 L530.4,335.9 L531.1,335.5 L531.8,335.2 L532.5,334.8 L533.2,334.5 L533.9,334.2 L534.5,333.8 L535.2,333.5 L535.9,333.1 L536.6,332.7 L537.3,332.4 L537.9,332.0 L538.6,331.7 L539.3,331.3" stroke="#f00" stroke-width="1.5"/>
</g>
<path d="M386.6,401.2 v-2.2 M386.6,247.2 v2.2 M437.5,401.2 v-2.2 M437.5,247.2 v2.2 M488.4,401.2 v-2.2 M488.4,247.2 v2.2 M335.7,278.0 h2.2 M539.3,278.0 h-2.2 M335.7,308.8 h2.2 M539.3,308.8 h-2.2 M335.7,339.6 h2.2 M539.3,339.6 h-2.2 M335.7,370.4 h2.2 M539.3,370.4 h-2.2" stroke="#333" stroke-width="0.8" fill="none"/>
<rect x="335.7" y="247.2" width="203.6" height="154.0" fill="none" stroke="#3a3a3a" stroke-width="0.9"/>
<text class="sans" transform="translate(335.7,414) scale(0.86,1)" font-size="9.2" text-anchor="middle" fill="#262626">4.8</text>
<text class="sans" transform="translate(386.6,414) scale(0.86,1)" font-size="9.2" text-anchor="middle" fill="#262626">5.3</text>
<text class="sans" transform="translate(437.5,414) scale(0.86,1)" font-size="9.2" text-anchor="middle" fill="#262626">5.8</text>
<text class="sans" transform="translate(488.4,414) scale(0.86,1)" font-size="9.2" text-anchor="middle" fill="#262626">6.3</text>
<text class="sans" transform="translate(539.3,414) scale(0.86,1)" font-size="9.2" text-anchor="middle" fill="#262626">6.8</text>
<text class="sans" transform="translate(332.2,250.1) scale(0.86,1)" font-size="9.2" text-anchor="end" fill="#262626">15</text>
<text class="sans" transform="translate(332.2,280.9) scale(0.86,1)" font-size="9.2" text-anchor="end" fill="#262626">12</text>
<text class="sans" transform="translate(332.2,311.7) scale(0.86,1)" font-size="9.2" text-anchor="end" fill="#262626">9</text>
<text class="sans" transform="translate(332.2,342.5) scale(0.86,1)" font-size="9.2" text-anchor="end" fill="#262626">6</text>
<text class="sans" transform="translate(332.2,373.3) scale(0.86,1)" font-size="9.2" text-anchor="end" fill="#262626">3</text>
<text class="sans" transform="translate(332.2,404.1) scale(0.86,1)" font-size="9.2" text-anchor="end" fill="#262626">0</text>
<text class="sans" x="437.5" y="426.2" font-size="9.5" text-anchor="middle" fill="#333">Frequency (GHz)</text>
<text class="sans" transform="translate(318.5,323.7) rotate(-90)" font-size="9.8" text-anchor="middle" fill="#333">Axial Ratio(dB)</text>
<rect x="478.7" y="256.3" width="58.5" height="37.7" fill="#fff" stroke="#555" stroke-width="0.8"/>
<path d="M480.9,263.9 H499.2" stroke="#000" stroke-width="1.3" stroke-dasharray="4.7 4.3" fill="none"/>
<path d="M480.9,275.5 H499.2" stroke="#1414ee" stroke-width="1.1" stroke-dasharray="4 1.5 1.2 1.5" fill="none"/>
<path d="M480.9,287.2 H499.2" stroke="#f00" stroke-width="1.1" fill="none"/>
<text class="serif" x="501.2" y="266.4" font-size="7.4" fill="#111">Antenna#1</text>
<text class="serif" x="501.2" y="277.8" font-size="7.4" fill="#111">Antenna#2</text>
<text class="serif" x="501.2" y="289.4" font-size="7.4" fill="#111">Antenna#3</text>
<text class="serif" x="422.3" y="441.7" font-size="13" font-weight="bold" fill="#111">(c)</text>
</svg>
</body></html>
